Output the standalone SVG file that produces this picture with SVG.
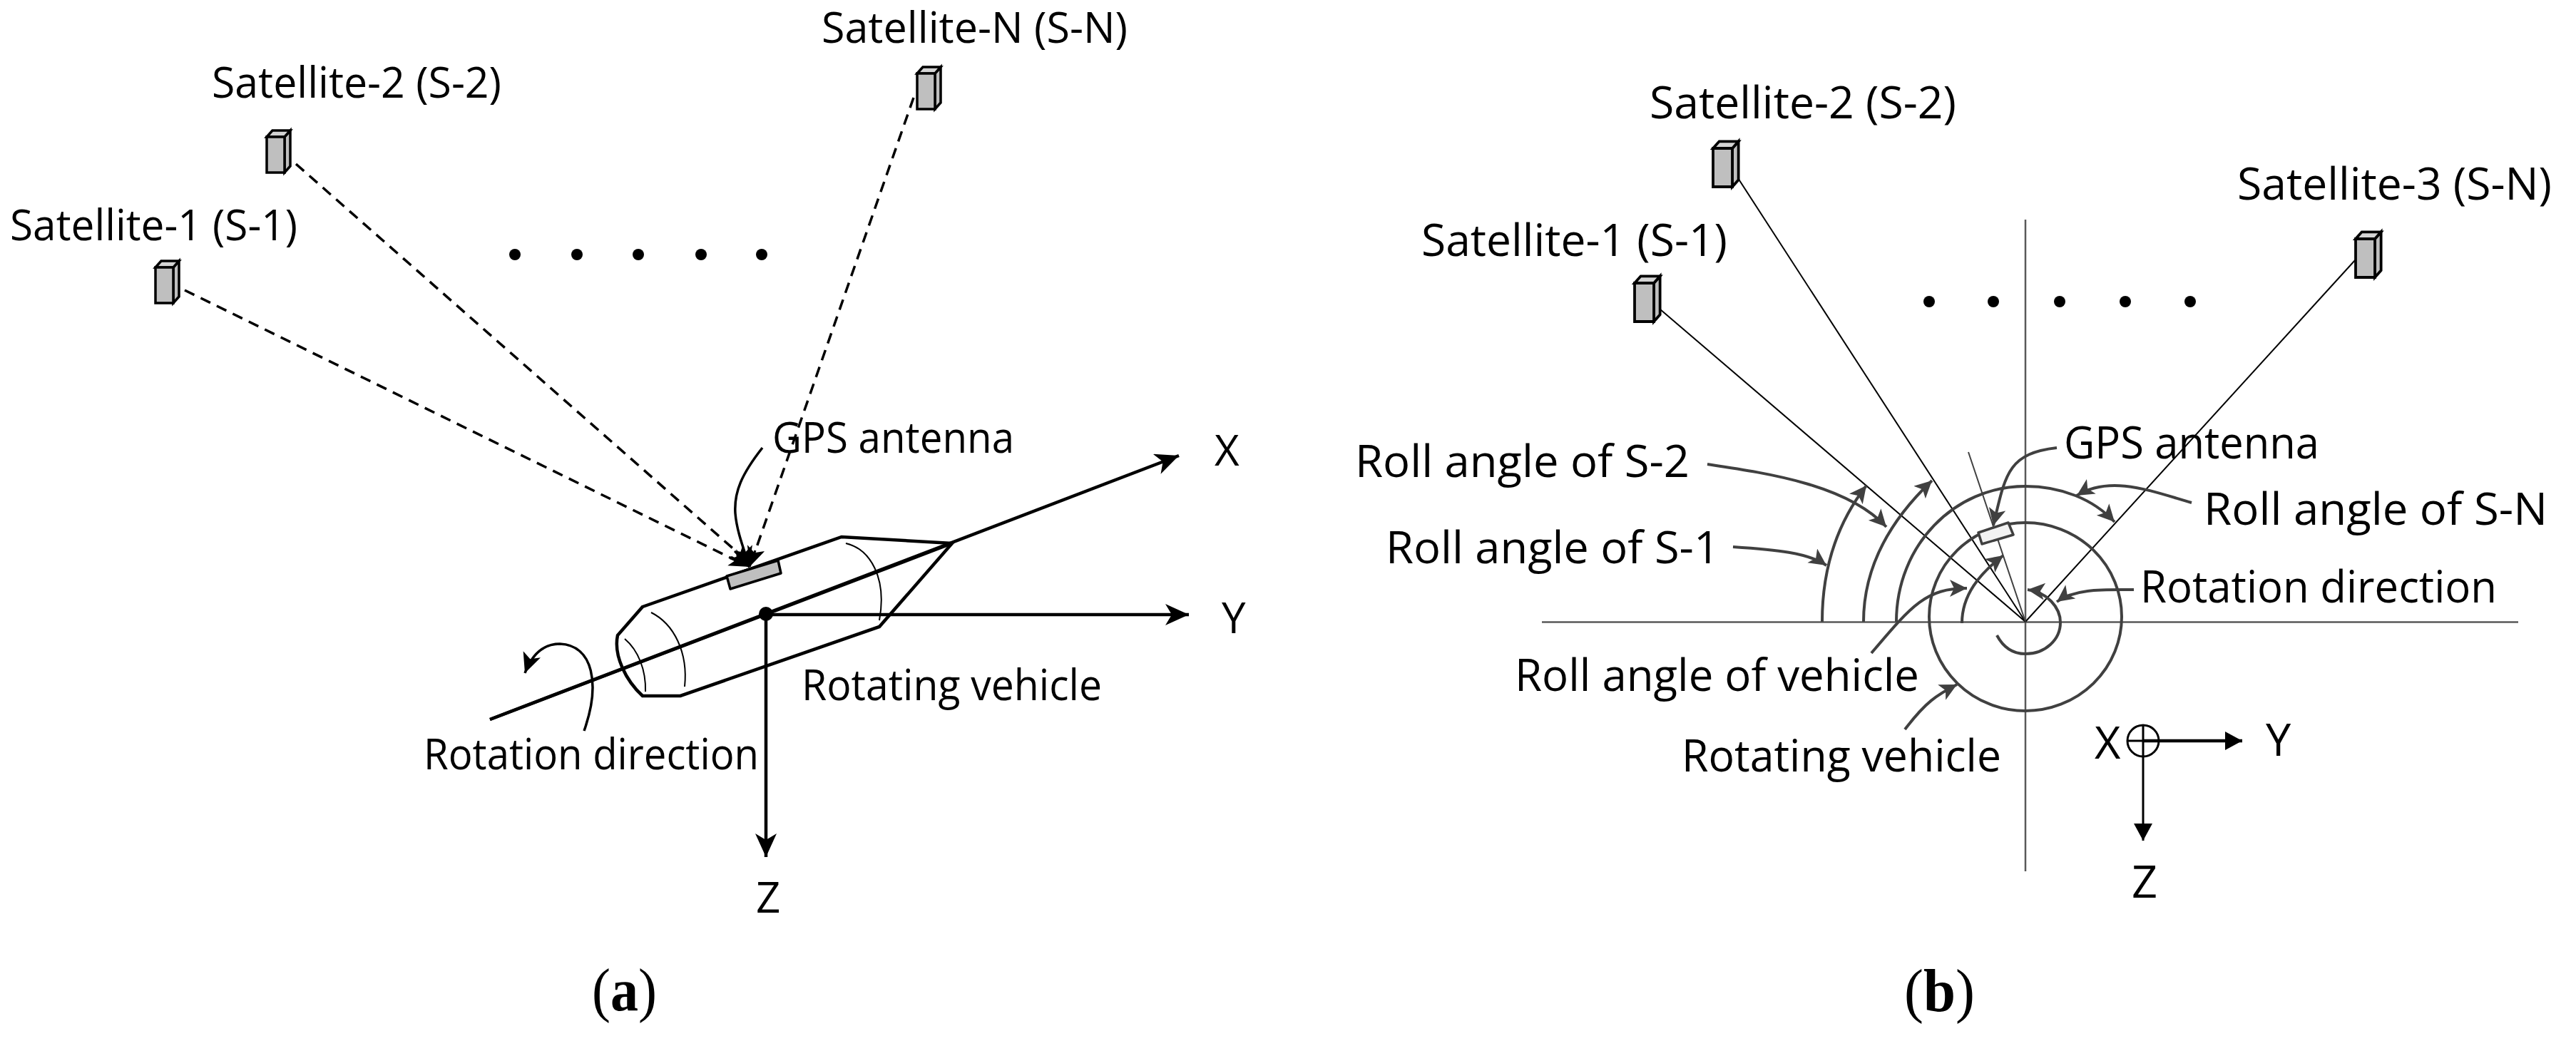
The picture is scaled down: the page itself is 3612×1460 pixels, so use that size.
<svg xmlns="http://www.w3.org/2000/svg" xmlns:xlink="http://www.w3.org/1999/xlink" width="3612" height="1460" viewBox="0 0 3612 1460">
<style>
text{font-family:"Open Sans","Noto Sans","Liberation Sans",sans-serif;fill:#000;font-size:60px}
.b{font-size:63px}
.cap{font-family:"Liberation Serif",serif;font-size:84px}
.cap tspan{font-weight:bold}
.sf{fill:#bfbfbf;stroke:#000;stroke-width:3.5;stroke-linejoin:miter}
.st{fill:#d4d4d4;stroke:#000;stroke-width:3.5}
.main{fill:none;stroke:#000;stroke-width:4.5}
.thin{fill:none;stroke:#000;stroke-width:2}
.dash{fill:none;stroke:#000;stroke-width:3.5;stroke-dasharray:15 10}
.gray{fill:none;stroke:#404040;stroke-width:4}
.ray{fill:none;stroke:#000;stroke-width:2}
.ax{fill:none;stroke:#595959;stroke-width:2.5}
</style>
<defs>
<marker id="ah" markerUnits="userSpaceOnUse" markerWidth="40" markerHeight="34" refX="33" refY="15" orient="auto"><path d="M0,0L33,15L0,30L9,15Z" fill="#000"/></marker>
<marker id="as" markerUnits="userSpaceOnUse" markerWidth="40" markerHeight="34" refX="28" refY="13" orient="auto"><path d="M0,0L28,13L0,26L7,13Z" fill="#000"/></marker>
<marker id="ag" markerUnits="userSpaceOnUse" markerWidth="30" markerHeight="30" refX="24" refY="12" orient="auto"><path d="M0,0L24,12L0,24L6,12Z" fill="#404040"/></marker>
<marker id="af" markerUnits="userSpaceOnUse" markerWidth="30" markerHeight="34" refX="24" refY="13" orient="auto"><path d="M0,0L24,13L0,26Z" fill="#000"/></marker>
<g id="satbox"><path class="sf" d="M25,0L33,-9V41L25,50Z"/><path class="st" d="M0,0L8,-9H33L25,0Z"/><path class="sf" d="M0,0H25V50H0Z"/></g>
</defs>
<rect width="3612" height="1460" fill="#fff"/>

<g id="connectors">
<path class="dash" d="M259,407L1040,790"/>
<path class="dash" d="M415,230L1040,780"/>
<path class="dash" d="M1281,137L1060,770"/>
<path class="main" marker-end="url(#as)" d="M1025,781L1051,795" style="stroke-width:3"/>
<path class="main" marker-end="url(#as)" d="M1030,773L1051,795" style="stroke-width:3"/>
<path class="main" marker-end="url(#as)" d="M1059,772L1051,795" style="stroke-width:3"/>
<path class="main" style="stroke-width:3.5" marker-end="url(#as)" d="M1069,628C1040,665 1029,690 1031,720C1033,745 1043,770 1051,795"/>
<path class="main" marker-end="url(#ah)" d="M687,1009L1653,639"/>
<path class="main" marker-end="url(#ah)" d="M1074,862H1667"/>
<path class="main" marker-end="url(#ah)" d="M1074,862V1202"/>
<path class="main" style="stroke-width:3.5" marker-end="url(#as)" d="M819,1025C842,960 832,905 785,903C760,903 745,920 736,944"/>

<path class="ax" d="M2840,308V1222"/>
<path class="ax" d="M2162,872.500H3531"/>
<path class="ray" d="M2428,236L2840,872"/>
<path class="ray" d="M2321,428L2840,872"/>
<path class="ray" d="M3303,364L2840,872"/>
<path class="thin" style="stroke:#404040" d="M2760,634L2840,872"/>
<path class="gray" marker-end="url(#ag)" d="M2555,872C2555,800 2575,735 2617,681"/>
<path class="gray" marker-end="url(#ag)" d="M2613,872C2613,795 2650,730 2709,674"/>
<path class="gray" marker-end="url(#ag)" d="M2659,872C2659,765 2740,682 2840,682C2890,682 2935,700 2965,732"/>
<path class="gray" marker-end="url(#ag)" d="M2751,874C2751,835 2775,805 2809,779"/>
<path class="gray" marker-end="url(#ag)" d="M2800,891C2810,910 2825,917 2840,917C2868,917 2889,897 2889,873C2889,852 2870,830 2843,827"/>
<path class="gray" marker-end="url(#ag)" d="M2394,651C2480,664 2590,680 2645,739"/>
<path class="gray" marker-end="url(#ag)" d="M2430,767C2490,771 2535,775 2561,793"/>
<path class="gray" marker-end="url(#ag)" d="M3073,705C3020,690 2960,665 2912,695"/>
<path class="gray" marker-end="url(#ag)" d="M2884,628C2815,636 2812,665 2795,737"/>
<path class="gray" marker-end="url(#ag)" d="M2992,827C2950,827 2910,825 2884,844"/>
<path class="gray" marker-end="url(#ag)" d="M2624,916C2680,850 2700,825 2758,825"/>
<path class="gray" marker-end="url(#ag)" d="M2671,1023C2700,985 2715,975 2744,960"/>
<path class="main" marker-end="url(#af)" d="M3005,1039H3144"/>
<path class="main" style="stroke-width:3" marker-end="url(#af)" d="M3005,1061V1179"/>
</g>

<g id="sat-a1"><use xlink:href="#satbox" transform="translate(218,375)"/></g>
<g id="sat-a2"><use xlink:href="#satbox" transform="translate(374,192)"/></g>
<g id="sat-aN"><use xlink:href="#satbox" transform="translate(1286,103)"/></g>
<g id="label-a1"><text x="14" y="337" textLength="403" lengthAdjust="spacingAndGlyphs">Satellite-1 (S-1)</text></g>
<g id="label-a2"><text x="297" y="137" textLength="406" lengthAdjust="spacingAndGlyphs">Satellite-2 (S-2)</text></g>
<g id="label-aN"><text x="1152" y="60" textLength="429" lengthAdjust="spacingAndGlyphs">Satellite-N (S-N)</text></g>
<g id="dots-a" fill="#000"><circle cx="722" cy="357" r="8"/><circle cx="809" cy="357" r="8"/><circle cx="895" cy="357" r="8"/><circle cx="983" cy="357" r="8"/><circle cx="1068" cy="357" r="8"/></g>

<g id="vehicle-a">
<path class="main" d="M901,851L1180,753L1335,762L1233,879L954,976H901C878,955 860,920 866,891Z"/>
<path class="main" d="M687,1009L1335,762"/>
<path class="thin" d="M1186,762C1220,770 1244,810 1233,870"/>
<path class="thin" d="M913,859C945,875 965,915 960,963"/>
<path class="thin" d="M876,896C895,912 906,940 905,970"/>
<path d="M1019,808L1091,786L1095,804L1024,826Z" fill="#bfbfbf" stroke="#000" stroke-width="3.500" stroke-linejoin="round"/>
<circle cx="1074" cy="861" r="10" fill="#000"/>
</g>
<g id="labels-a">
<text x="1083" y="635" textLength="339" lengthAdjust="spacingAndGlyphs">GPS antenna</text>
<text x="1703" y="653">X</text>
<text x="1713" y="888">Y</text>
<text x="1124" y="982" textLength="421" lengthAdjust="spacingAndGlyphs">Rotating vehicle</text>
<text x="594" y="1079" textLength="470" lengthAdjust="spacingAndGlyphs">Rotation direction</text>
<text x="1060" y="1280">Z</text>
<text class="cap" x="830" y="1417" textLength="91" lengthAdjust="spacingAndGlyphs">(<tspan>a</tspan>)</text>
</g>

<g id="sat-b1"><use xlink:href="#satbox" transform="translate(2292,397) scale(1.08)"/></g>
<g id="sat-b2"><use xlink:href="#satbox" transform="translate(2402,208) scale(1.08)"/></g>
<g id="sat-b3"><use xlink:href="#satbox" transform="translate(3303,335) scale(1.08)"/></g>
<g id="label-b1"><text class="b" x="1993" y="359" textLength="429" lengthAdjust="spacingAndGlyphs">Satellite-1 (S-1)</text></g>
<g id="label-b2"><text class="b" x="2313" y="166" textLength="430" lengthAdjust="spacingAndGlyphs">Satellite-2 (S-2)</text></g>
<g id="label-b3"><text class="b" x="3137" y="280" textLength="441" lengthAdjust="spacingAndGlyphs">Satellite-3 (S-N)</text></g>
<g id="dots-b" fill="#000"><circle cx="2705" cy="423" r="8"/><circle cx="2795" cy="423" r="8"/><circle cx="2888" cy="423" r="8"/><circle cx="2980" cy="423" r="8"/><circle cx="3071" cy="423" r="8"/></g>

<g id="vehicle-b">
<ellipse class="gray" cx="2840" cy="865" rx="135" ry="132"/>
<path d="M2774,747L2816,733L2823,750L2779,763Z" fill="#f2f2f2" stroke="#404040" stroke-width="3.500" stroke-linejoin="round"/>
</g>
<g id="axes-b"><circle cx="3005" cy="1039" r="22" fill="none" stroke="#000" stroke-width="3"/><path d="M2983,1039H3027M3005,1017V1061" stroke="#000" stroke-width="3" fill="none"/></g>
<g id="labels-b">
<text class="b" x="1900" y="669" textLength="469" lengthAdjust="spacingAndGlyphs">Roll angle of S-2</text>
<text class="b" x="1943" y="790" textLength="468" lengthAdjust="spacingAndGlyphs">Roll angle of S-1</text>
<text class="b" x="2894" y="643" textLength="358" lengthAdjust="spacingAndGlyphs">GPS antenna</text>
<text class="b" x="3090" y="736" textLength="482" lengthAdjust="spacingAndGlyphs">Roll angle of S-N</text>
<text class="b" x="3001" y="845" textLength="500" lengthAdjust="spacingAndGlyphs">Rotation direction</text>
<text class="b" x="2124" y="969" textLength="567" lengthAdjust="spacingAndGlyphs">Roll angle of vehicle</text>
<text class="b" x="2358" y="1082" textLength="448" lengthAdjust="spacingAndGlyphs">Rotating vehicle</text>
<text class="b" x="2937" y="1064">X</text>
<text class="b" x="3177" y="1060">Y</text>
<text class="b" x="2989" y="1259">Z</text>
<text class="cap" x="2670" y="1418" textLength="99" lengthAdjust="spacingAndGlyphs">(<tspan>b</tspan>)</text>
</g>
</svg>
